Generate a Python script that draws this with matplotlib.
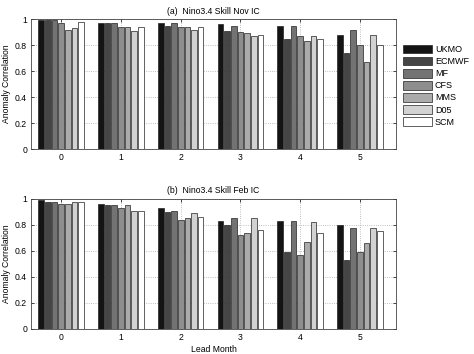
import matplotlib
matplotlib.use("Agg")
import matplotlib.pyplot as plt
from matplotlib.patches import Patch
import numpy as np

# Modelle und Lead-Monate
models = ["UKMO", "ECMWF", "MF", "CFS", "MMS", "D05", "SCM"]
leads = [0, 1, 2, 3, 4, 5]

# (a) Nov IC, Werte je Modell ueber lead 0..5
nov_ukmo = [0.99, 0.97, 0.97, 0.96, 0.95, 0.88]
nov_ecmwf = [0.99, 0.97, 0.95, 0.905, 0.846, 0.74]
nov_mf = [0.99, 0.97, 0.97, 0.95, 0.95, 0.915]
nov_cfs = [0.967, 0.94, 0.94, 0.90, 0.87, 0.80]
nov_mms = [0.915, 0.94, 0.94, 0.89, 0.83, 0.67]
nov_d05 = [0.93, 0.905, 0.915, 0.87, 0.87, 0.88]
nov_scm = [0.975, 0.94, 0.94, 0.88, 0.85, 0.80]

# (b) Feb IC
feb_ukmo = [0.99, 0.96, 0.93, 0.83, 0.83, 0.80]
feb_ecmwf = [0.98, 0.95, 0.90, 0.80, 0.59, 0.53]
feb_mf = [0.98, 0.95, 0.91, 0.85, 0.83, 0.78]
feb_cfs = [0.96, 0.93, 0.84, 0.72, 0.57, 0.59]
feb_mms = [0.96, 0.95, 0.85, 0.74, 0.67, 0.66]
feb_d05 = [0.98, 0.91, 0.89, 0.85, 0.82, 0.78]
feb_scm = [0.98, 0.91, 0.86, 0.76, 0.74, 0.75]

colors = ["#141414", "#454545", "#737373", "#8e8e8e", "#ababab", "#d2d2d2", "#ffffff"]

nov = [nov_ukmo, nov_ecmwf, nov_mf, nov_cfs, nov_mms, nov_d05, nov_scm]
feb = [feb_ukmo, feb_ecmwf, feb_mf, feb_cfs, feb_mms, feb_d05, feb_scm]

plt.rcParams["font.family"] = ["Liberation Sans", "DejaVu Sans"]
plt.rcParams["font.size"] = 6.2

fig = plt.figure(figsize=(4.74, 3.54), dpi=100)
ax1 = fig.add_axes([0.066, 0.579, 0.769, 0.367])
ax2 = fig.add_axes([0.066, 0.071, 0.769, 0.367])

group_w = 0.78
bw = group_w / len(models)
x = np.array(leads)


def draw_panel(ax, data, title):
    for i, vals in enumerate(data):
        off = -group_w / 2 + bw * (i + 0.5)
        ax.bar(x + off, vals, width=bw * 0.85, color=colors[i],
               edgecolor="#222222", linewidth=0.5, zorder=3)
    ax.set_xlim(-0.5, 5.6)
    ax.set_ylim(0, 1)
    ax.set_xticks(leads)
    ax.set_yticks([0, 0.2, 0.4, 0.6, 0.8, 1])
    ax.set_yticklabels(["0", "0.2", "0.4", "0.6", "0.8", "1"])
    ax.grid(True, linestyle=":", color="#aaaaaa", linewidth=0.6, zorder=0)
    ax.tick_params(direction="in", top=True, right=True, length=2,
                   width=0.5, labelsize=6.2, pad=3)
    for s in ax.spines.values():
        s.set_linewidth(0.6)
        s.set_color("#444444")
    ax.set_title(title, fontsize=6.2, pad=4)
    ax.set_ylabel("Anomaly Correlation", fontsize=6.2, labelpad=3)


draw_panel(ax1, nov, "(a)  Nino3.4 Skill Nov IC")
draw_panel(ax2, feb, "(b)  Nino3.4 Skill Feb IC")
ax2.set_xlabel("Lead Month", fontsize=6.2, labelpad=2)

handles = [Patch(facecolor=c, edgecolor="#222222", linewidth=0.5) for c in colors]
fig.legend(handles, models, loc="center left", bbox_to_anchor=(0.850, 0.758),
           frameon=False, fontsize=6.5, handlelength=3.2, handleheight=1.1,
           handletextpad=0.35, labelspacing=0.3, borderaxespad=0,
           borderpad=0)

fig.savefig("out.png", dpi=100)
